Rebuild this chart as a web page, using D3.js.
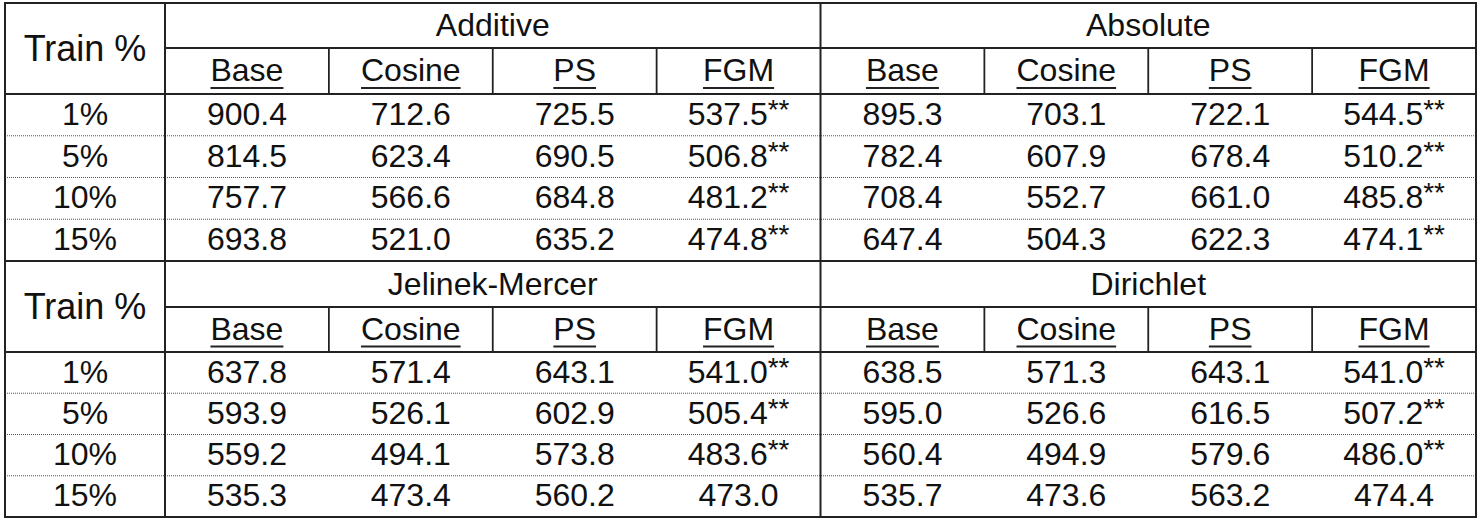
<!DOCTYPE html>
<html>
<head>
<meta charset="utf-8">
<script src="https://cdn.jsdelivr.net/npm/d3@7"></script>
<style>
html,body{margin:0;padding:0;background:#fff;}
svg{display:block;}
text{font-family:"Liberation Sans",Arial,sans-serif;fill:#111;}
</style>
</head>
<body>
<svg id="chart" width="1481" height="523"></svg>
<script>
// ---- data ----
const rowLabelTitle = "Train %";
const trainPcts = ["1%", "5%", "10%", "15%"];
const methods = ["Base", "Cosine", "PS", "FGM"];
const blockGroups = [["Additive", "Absolute"], ["Jelinek-Mercer", "Dirichlet"]];

const additive = [
  [900.4, 712.6, 725.5, 537.5],
  [814.5, 623.4, 690.5, 506.8],
  [757.7, 566.6, 684.8, 481.2],
  [693.8, 521.0, 635.2, 474.8]
];
const absolute = [
  [895.3, 703.1, 722.1, 544.5],
  [782.4, 607.9, 678.4, 510.2],
  [708.4, 552.7, 661.0, 485.8],
  [647.4, 504.3, 622.3, 474.1]
];
const jelinekMercer = [
  [637.8, 571.4, 643.1, 541.0],
  [593.9, 526.1, 602.9, 505.4],
  [559.2, 494.1, 573.8, 483.6],
  [535.3, 473.4, 560.2, 473.0]
];
const dirichlet = [
  [638.5, 571.3, 643.1, 541.0],
  [595.0, 526.6, 616.5, 507.2],
  [560.4, 494.9, 579.6, 486.0],
  [535.7, 473.6, 563.2, 474.4]
];
// significance markers (**) per block, per row, per column
const additiveSig = [[0,0,0,1],[0,0,0,1],[0,0,0,1],[0,0,0,1]];
const absoluteSig = [[0,0,0,1],[0,0,0,1],[0,0,0,1],[0,0,0,1]];
const jelinekSig  = [[0,0,0,1],[0,0,0,1],[0,0,0,1],[0,0,0,0]];
const dirichletSig= [[0,0,0,1],[0,0,0,1],[0,0,0,1],[0,0,0,0]];

const blockValues = [[additive, absolute], [jelinekMercer, dirichlet]];
const blockSig = [[additiveSig, absoluteSig], [jelinekSig, dirichletSig]];

// ---- layout ----
const svg = d3.select("#chart");
const L = 5, R = 1476, C0 = 165;
const nCols = methods.length * 2;
const x = d3.scaleLinear().domain([0, nCols]).range([C0, R]);
const blocks = [
  {top: 3, gh: 48, sh: 94, bottom: 261},
  {top: 261, gh: 307, sh: 352, bottom: 517}
];
const lineColor = "#222";
const dataFont = 32, headFont = 32, titleFont = 36;

function fmt(v){ return d3.format(".1f")(v); }

function drawLine(x1,y1,x2,y2,w,dash,color){
  svg.append("line").attr("x1",x1).attr("y1",y1).attr("x2",x2).attr("y2",y2)
    .attr("stroke",color||lineColor).attr("stroke-width",w)
    .attr("stroke-dasharray",dash||null);
}

blocks.forEach((b, bi) => {
  const yRow = d3.scaleLinear().domain([0, trainPcts.length]).range([b.sh, b.bottom]);

  svg.append("text").attr("x",(L+C0)/2).attr("y",(b.top+b.sh)/2 + 12)
    .attr("text-anchor","middle").attr("font-size",titleFont).text(rowLabelTitle);

  blockGroups[bi].forEach((g, gi) => {
    const cx = (x(gi*4) + x(gi*4+4))/2;
    svg.append("text").attr("x",cx).attr("y",(b.top+b.gh)/2 + 10.5)
      .attr("text-anchor","middle").attr("font-size",headFont).text(g);
    methods.forEach((m, mi) => {
      const ci = gi*4+mi;
      const mx = (x(ci)+x(ci+1))/2;
      const base = (b.gh+b.sh)/2 + 10;
      const t = svg.append("text").attr("x",mx).attr("y",base)
        .attr("text-anchor","middle").attr("font-size",headFont).text(m);
      const w = t.node().getComputedTextLength();
      drawLine(mx - w/2, base+7, mx + w/2, base+7, 2);
    });
    blockValues[bi][gi].forEach((row, ri) => {
      const cy = (yRow(ri)+yRow(ri+1))/2 + 10;
      row.forEach((v, mi) => {
        const ci = gi*4+mi;
        const mx = (x(ci)+x(ci+1))/2;
        const t = svg.append("text").attr("x",mx).attr("y",cy)
          .attr("text-anchor","middle").attr("font-size",dataFont);
        t.append("tspan").text(fmt(v));
        if (blockSig[bi][gi][ri][mi]) {
          t.append("tspan").attr("dx",0).attr("dy",-6).attr("font-size",28).text("**");
        }
      });
    });
  });

  trainPcts.forEach((p, ri) => {
    const cy = (yRow(ri)+yRow(ri+1))/2 + 10;
    svg.append("text").attr("x",(L+C0)/2).attr("y",cy)
      .attr("text-anchor","middle").attr("font-size",dataFont).text(p);
    if (ri > 0) drawLine(L, yRow(ri), R, yRow(ri), 1.2, "1,1", "#555");
  });

  drawLine(C0, b.gh, R, b.gh, 2);
  drawLine(L, b.sh, R, b.sh, 2);
  d3.range(1, nCols).filter(i => i !== 4).forEach(i => {
    drawLine(x(i), b.gh, x(i), b.sh, 1.8);
  });
});

drawLine(C0, 3, C0, 517, 2);
drawLine(x(4), 3, x(4), 517, 2);
drawLine(L, 261, R, 261, 2);
svg.append("rect").attr("x",L).attr("y",3).attr("width",R-L).attr("height",517-3)
  .attr("fill","none").attr("stroke",lineColor).attr("stroke-width",2);
</script>
</body>
</html>
